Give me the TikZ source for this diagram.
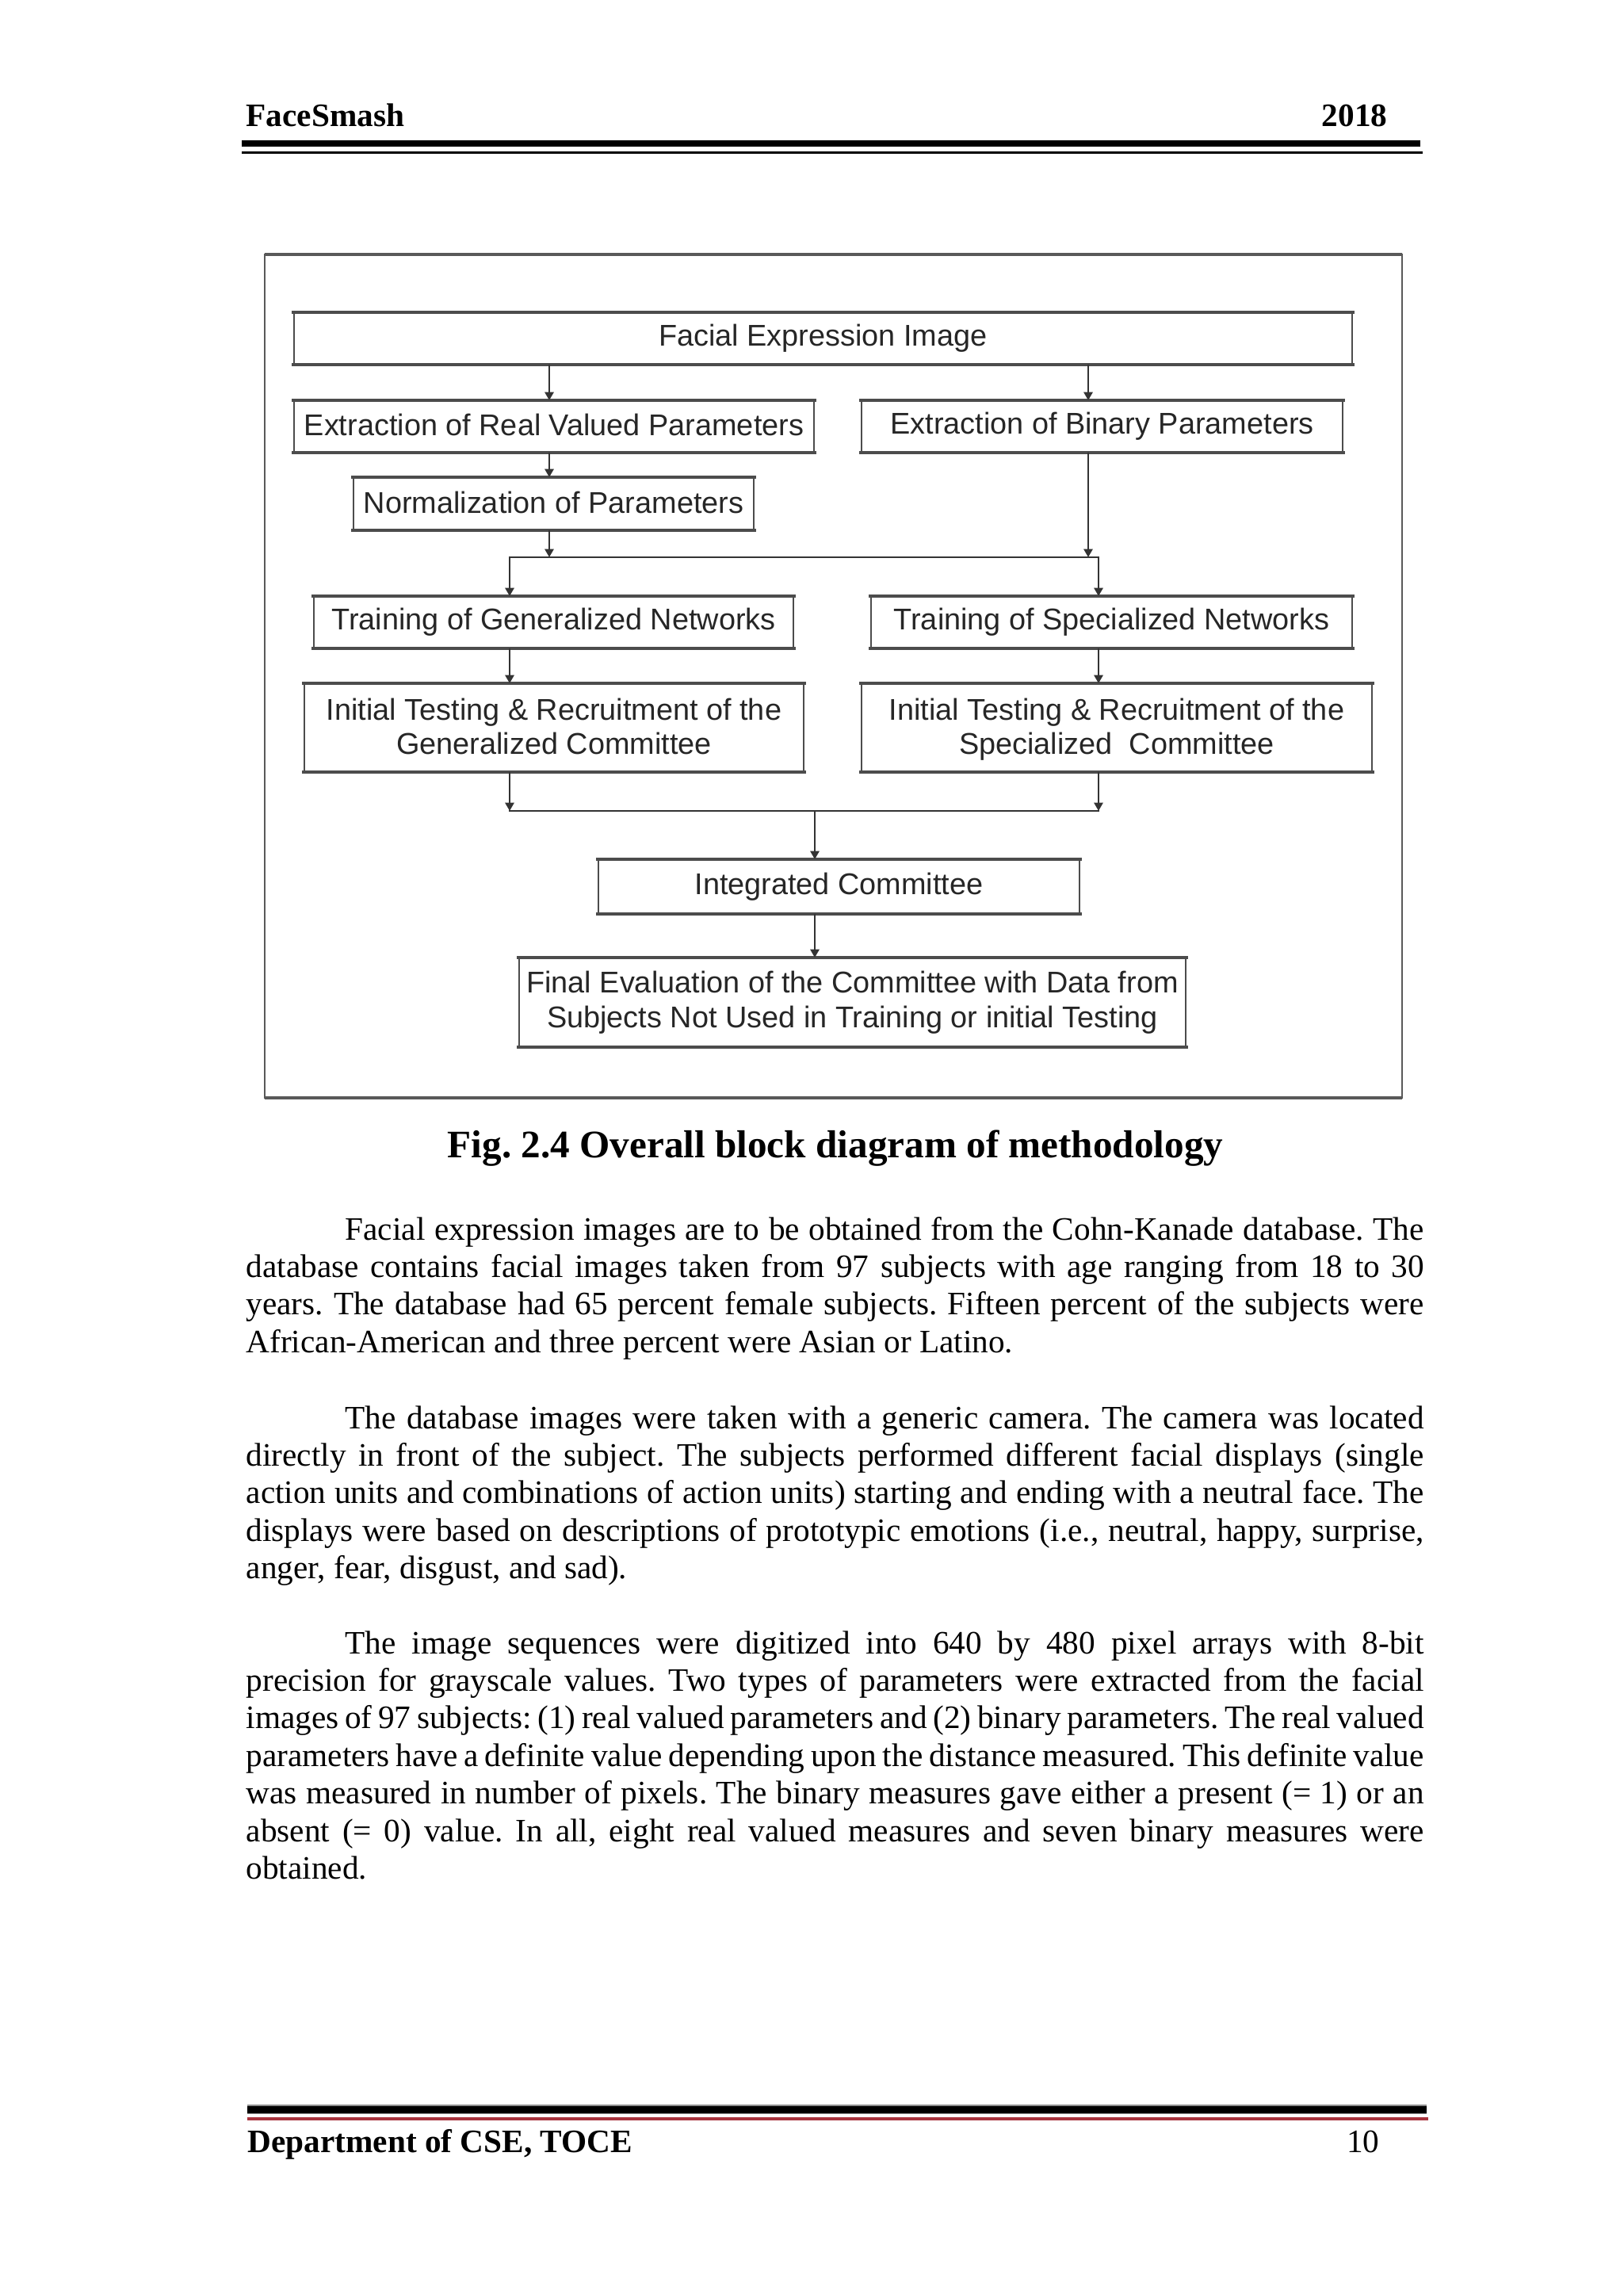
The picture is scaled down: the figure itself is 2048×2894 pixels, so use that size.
\documentclass[tikz,border=0pt]{standalone}
\usepackage{fontspec}
\setmainfont{Liberation Serif}
\newfontfamily\diagfont{Liberation Sans}
\usetikzlibrary{arrows.meta}
\frenchspacing
\definecolor{rulered}{RGB}{168,52,62}
\newdimen\PX \PX=0.29066pt
\newcommand\diagbox[6]{\node[dbox, minimum width={(#4-#2)*\PX}, minimum height={(#5-#3)*\PX}] (#1) at ({(#2+#4)/2},{(#3+#5)/2}) {#6\rule[-1pt]{0pt}{1pt}};}
\newcommand\jline[1]{\makebox[\linewidth][s]{#1}\\}
\tikzset{
  thickedge/.style={draw=black!70, line width=1.1pt, line cap=rect},
  dbox/.style={draw=black!70, line width=0.55pt, align=center, inner sep=0pt,
    font=\diagfont\fontsize{11}{12.7}\selectfont, text=black!85,
    append after command={\pgfextra{\let\LN\tikzlastnode}
      (\LN.north west) edge[thickedge] (\LN.north east)
      (\LN.south west) edge[thickedge] (\LN.south east)}},
  conn/.style={draw=black!80, line width=0.8pt},
  bar/.style={conn, line cap=rect},
  arr/.style={conn, -{Triangle[length=3pt,width=3.2pt]}},
  frame/.style={draw=black!65, line width=0.6pt},
  head/.style={inner sep=0pt, font=\bfseries\fontsize{12}{14}\selectfont},
  body/.style={inner sep=0pt, anchor=base west, font=\fontsize{12}{13.8}\selectfont},
}
\begin{document}
\begin{tikzpicture}[x=0.29066pt, y=-0.29066pt]
\useasboundingbox (0,0) rectangle (2048,2894);
\fill[white] (0,0) rectangle (2048,2894);

% header
\node[head, anchor=base west] (htitle) at (310,159) {FaceSmash};
\node[head, anchor=base east] (hyear) at (1751,159) {2018};
\fill[black] (305,177) rectangle (1792,185);
\fill[black] (305,191) rectangle (1795,194);

% diagram frame
\draw[frame] (334,321) rectangle (1769,1385);
\draw[draw=black!65, line width=0.9pt] (334,321) -- (1769,321) (334,1385) -- (1769,1385);

% boxes
\diagbox{fei}{371}{395}{1706}{459}{Facial Expression Image}
\diagbox{er}{371}{506}{1027}{570}{Extraction of Real Valued Parameters}
\diagbox{eb}{1087}{506}{1694}{570}{Extraction of Binary Parameters}
\diagbox{nm}{446}{603}{951}{668}{Normalization of Parameters}
\diagbox{tg}{396}{753}{1001}{817}{Training of Generalized Networks}
\diagbox{ts}{1099}{753}{1706}{817}{Training of Specialized Networks}
\diagbox{ig}{384}{863}{1014}{973}{Initial Testing \& Recruitment of the\\Generalized Committee}
\diagbox{is}{1087}{863}{1731}{973}{Initial Testing \& Recruitment of the\\\raisebox{0pt}[\height][0pt]{Specialized~ Committee}}
\diagbox{ic}{755}{1085}{1362}{1152}{Integrated Committee}
\diagbox{fe}{655}{1209}{1496}{1320}{Final Evaluation of the Committee with Data from\\Subjects Not Used in Training or initial Testing}

% connector columns and bars
\coordinate (cL) at (693,0);
\coordinate (cR) at (1373,0);
\coordinate (bL) at (643,0);
\coordinate (bR) at (1386,0);
\coordinate (cM) at (1028,0);
\coordinate (bar1) at (0,703);
\coordinate (bar2) at (0,1023);

\draw[arr] (fei.south -| cL) -- (er.north -| cL);
\draw[arr] (fei.south -| cR) -- (eb.north -| cR);
\draw[arr] (er.south -| cL) -- (nm.north -| cL);
\draw[arr] (nm.south -| cL) -- (bar1 -| cL);
\draw[arr] (eb.south -| cR) -- (bar1 -| cR);
\draw[bar] (bar1 -| bL) -- (bar1 -| bR);
\draw[arr] (bar1 -| bL) -- (tg.north -| bL);
\draw[arr] (bar1 -| bR) -- (ts.north -| bR);
\draw[arr] (tg.south -| bL) -- (ig.north -| bL);
\draw[arr] (ts.south -| bR) -- (is.north -| bR);
\draw[arr] (ig.south -| bL) -- (bar2 -| bL);
\draw[arr] (is.south -| bR) -- (bar2 -| bR);
\draw[bar] (bar2 -| bL) -- (bar2 -| bR);
\draw[arr] (bar2 -| cM) -- (ic.north -| cM);
\draw[arr] (ic.south -| cM) -- (fe.north -| cM);

% caption
\node[inner sep=0pt, anchor=base, font=\bfseries\fontsize{14.3}{16}\selectfont] (cap) at (1054,1460) {Fig. 2.4 Overall block diagram of methodology};

% paragraphs
\node[body] (p1) at (310,1564) {\parbox[t]{1486\PX}{%
\jline{\hspace*{125\PX}Facial expression images are to be obtained from the Cohn-Kanade database. The}
\jline{database contains facial images taken from 97 subjects with age ranging from 18 to 30}
\jline{years. The database had 65 percent female subjects. Fifteen percent of the subjects were}
African-American and three percent were Asian or Latino.}};

\node[body] (p2) at (310,1802) {\parbox[t]{1486\PX}{%
\jline{\hspace*{125\PX}The database images were taken with a generic camera. The camera was located}
\jline{directly in front of the subject. The subjects performed different facial displays (single}
\jline{action units and combinations of action units) starting and ending with a neutral face. The}
\jline{displays were based on descriptions of prototypic emotions (i.e., neutral, happy, surprise,}
anger, fear, disgust, and sad).}};

\node[body] (p3) at (310,2086) {\parbox[t]{1486\PX}{%
\jline{\hspace*{125\PX}The image sequences were digitized into 640 by 480 pixel arrays with 8-bit}
\jline{precision for grayscale values. Two types of parameters were extracted from the facial}
\jline{images of 97 subjects: (1) real valued parameters and (2) binary parameters. The real valued}
\jline{parameters have a definite value depending upon the distance measured. This definite value}
\jline{was measured in number of pixels. The binary measures gave either a present (= 1) or an}
\jline{absent (= 0) value. In all, eight real valued measures and seven binary measures were}
obtained.}};

% footer
\fill[black!45] (312,2655) rectangle (1800,2667);
\fill[black] (312,2656.5) rectangle (1800,2665.5);
\fill[rulered] (312,2671) rectangle (1802,2675);
\node[head, anchor=base west] (fdept) at (312,2715) {Department of CSE, TOCE};
\node[inner sep=0pt, anchor=base east, font=\fontsize{12}{14}\selectfont] (fpage) at (1741,2715) {10};
\end{tikzpicture}
\end{document}
